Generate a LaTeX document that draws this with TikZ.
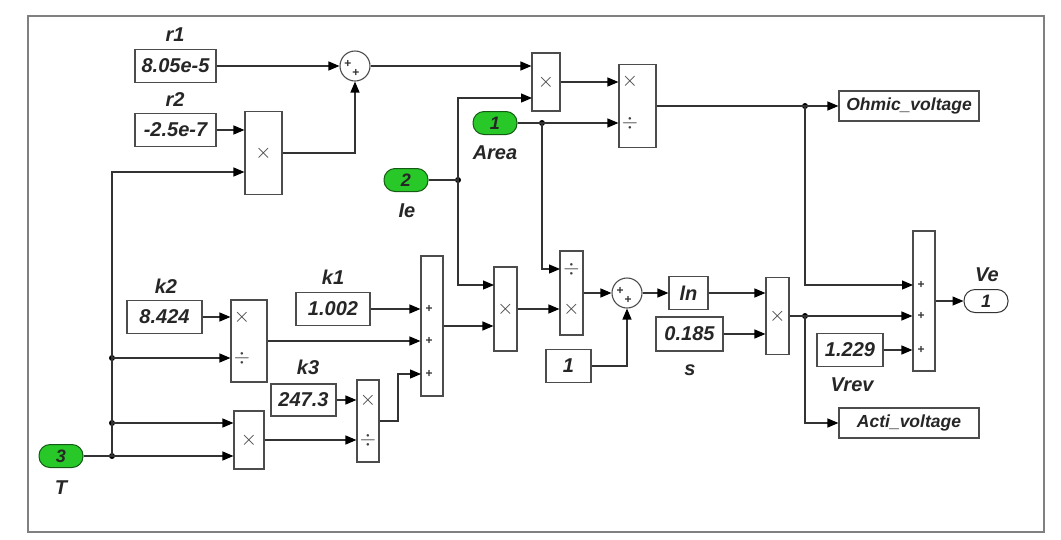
\documentclass[tikz,border=0pt]{standalone}
\usepackage{fontspec}
\setmainfont{Liberation Sans}
\usetikzlibrary{arrows.meta}
\definecolor{pgreen}{RGB}{40,200,40}
\definecolor{pdark}{RGB}{20,90,20}
\begin{document}
\begin{tikzpicture}[x=1pt,y=-1pt,
  wire/.style={draw=black!80, line width=1.2pt},
  arr/.style={wire, -{Triangle[length=11pt,width=9pt,color=black]}},
  bx/.style 2 args={draw=black!70, line width=1.1pt, fill=white, inner sep=0pt,
    minimum width=#1pt, minimum height=#2pt},
  txt/.style={font=\fontsize{20}{22}\selectfont\bfseries\itshape, text=black!85},
  stxt/.style={font=\fontsize{17.5}{20}\selectfont\bfseries\itshape, text=black!85},
  lbl/.style={font=\fontsize{20}{22}\selectfont\bfseries\itshape, text=black!85, inner sep=0pt},
  sym/.style={font=\fontsize{20}{22}\selectfont, text=black!75, inner sep=0pt},
  pl/.style={font=\fontsize{12}{13}\selectfont\bfseries, text=black!80, inner sep=0pt},
  sumc/.style={circle, draw=black!70, line width=1.1pt, minimum size=30pt, inner sep=0pt},
  port/.style={draw=pdark, line width=1pt, fill=pgreen, rounded corners=11pt,
    minimum width=44pt, minimum height=23pt, inner sep=0pt,
    font=\fontsize{18}{20}\selectfont\bfseries\itshape, text=black!85},
  oport/.style={port, fill=white, draw=black!80},
  dot/.style={circle, fill=black, inner sep=0pt, minimum size=6pt}
]
\useasboundingbox (0,0) rectangle (1061,539);
\draw[draw=black!50, line width=2.5pt] (28,16) rectangle (1044,532);

% ---- top part
\node[lbl] (lr1) at (175,35) {r1};
\node[bx={81}{33},txt] (cr1) at (175.5,66) {8.05e-5};
\node[lbl] (lr2) at (175,100) {r2};
\node[bx={81}{33},txt] (cr2) at (175.5,130) {-2.5e-7};
\node[bx={37}{83}] (m1) at (263.5,153) {};
\node[sym] (m1s) at (m1) {$\times$};
\node[sumc] (s1) at (355,66) {};
\node[pl] (s1p1) at (348,64) {+};
\node[pl] (s1p2) at (356,73) {+};
\node[bx={28}{58}] (m2) at (546,82) {};
\node[sym] (m2s) at (m2) {$\times$};
\node[bx={37}{83}] (d1) at (637.5,106) {};
\node[sym] (d1s1) at (630,81) {$\times$};
\node[sym] (d1s2) at (630,123) {$\div$};
\node[port] (area) at (495,123) {1};
\node[lbl] (larea) at (495,153) {Area};
\node[port] (ie) at (406,180) {2};
\node[lbl] (lie) at (407,211) {Ie};
\node[bx={140}{30},stxt] (ohm) at (909,106) {Ohmic\_voltage};

% ---- middle chain
\node[bx={23}{84}] (m3) at (505.5,309) {};
\node[sym] (m3s) at (m3) {$\times$};
\node[bx={23}{84}] (d2) at (571.5,293) {};
\node[sym] (d2s1) at (571.5,269) {$\div$};
\node[sym] (d2s2) at (571.5,309) {$\times$};
\node[sumc] (s2) at (627,293) {};
\node[pl] (s2p1) at (620,291) {+};
\node[pl] (s2p2) at (628,300) {+};
\node[bx={45}{33},txt] (c1) at (568.5,366) {1};
\node[bx={39}{33},txt] (ln) at (688.5,293) {ln};
\node[bx={67}{34},txt] (c185) at (689.5,334) {0.185};
\node[lbl] (ls) at (690,370) {s};
\node[bx={23}{77}] (m4) at (777.5,316) {};
\node[sym] (m4s) at (m4) {$\times$};
\node[bx={140}{30},stxt] (acti) at (909,423) {Acti\_voltage};
\node[bx={22}{140}] (s3) at (924,301) {};
\node[pl] (s3p1) at (921,285) {+};
\node[pl] (s3p2) at (921,316) {+};
\node[pl] (s3p3) at (921,350) {+};
\node[bx={66}{33},txt] (c1229) at (850,350) {1.229};
\node[lbl] (lvrev) at (852,385) {Vrev};
\node[oport] (ve) at (986,301) {1};
\node[lbl] (lve) at (987,275) {Ve};

% ---- left lower part
\node[lbl] (lk2) at (166,286) {k2};
\node[bx={75}{33},txt] (ck2) at (164.5,317) {8.424};
\node[bx={36}{82}] (d3) at (249,341) {};
\node[sym] (d3s1) at (242,317) {$\times$};
\node[sym] (d3s2) at (242,358) {$\div$};
\node[lbl] (lk1) at (333,277) {k1};
\node[bx={74}{33},txt] (ck1) at (333,309) {1.002};
\node[bx={22}{140}] (s4) at (432,326) {};
\node[pl] (s4p1) at (429,309) {+};
\node[pl] (s4p2) at (429,341) {+};
\node[pl] (s4p3) at (429,374) {+};
\node[lbl] (lk3) at (308,367) {k3};
\node[bx={65}{32},txt] (ck3) at (303.5,400) {247.3};
\node[bx={22}{82}] (d4) at (368,421) {};
\node[sym] (d4s1) at (368,400) {$\times$};
\node[sym] (d4s2) at (368,440) {$\div$};
\node[bx={30}{58}] (m5) at (249,440) {};
\node[sym] (m5s) at (m5) {$\times$};
\node[port] (T) at (61,456) {3};
\node[lbl] (lT) at (61,488) {T};

% ---- junctions and bend points
\coordinate (tc) at (112,172);
\node[dot] (jT1) at (112,358) {};
\node[dot] (jT2) at (112,423) {};
\node[dot] (jT3) at (112,456) {};
\node[dot] (ja) at (542,123) {};
\node[dot] (ji) at (458,180) {};
\node[dot] (jo) at (805,106) {};
\node[dot] (jm) at (805,316) {};
\coordinate (m2i2) at (532,98);
\coordinate (m3i1) at (494,285);
\coordinate (d2i1) at (560,269);
\coordinate (s3i1) at (913,285);
\coordinate (s4i3) at (421,374);
\coordinate (d4b) at (398,374);

% ---- connectors
\draw[arr] (cr1.east) -- (cr1.east -| s1.west);
\draw[arr] (cr2.east) -- (cr2.east -| m1.west);
\draw[arr] (m1.east) -| (s1.south);
\draw[arr] (s1.east) -- (s1.east -| m2.west);
\draw[arr] (m2.east) -- (m2.east -| d1.west);
\draw[arr] (area.east) -- (area.east -| d1.west);
\draw[arr] (ja.center) |- (d2i1);
\draw[wire] (ie.east) -- (ji.center);
\draw[arr] (ji.center) |- (m2i2);
\draw[arr] (ji.center) |- (m3i1);
\draw[wire] (d1.east) -- (jo.center);
\draw[arr] (jo.center) -- (ohm.west);
\draw[arr] (jo.center) |- (s3i1);
\draw[arr] (s4.east) -- (s4.east -| m3.west);
\draw[arr] (m3.east) -- (m3.east -| d2.west);
\draw[arr] (d2.east) -- (s2.west);
\draw[arr] (c1.east) -| (s2.south);
\draw[arr] (s2.east) -- (ln.west);
\draw[arr] (ln.east) -- (ln.east -| m4.west);
\draw[arr] (c185.east) -- (c185.east -| m4.west);
\draw[wire] (m4.east) -- (jm.center);
\draw[arr] (jm.center) -- (jm.center -| s3.west);
\draw[arr] (jm.center) |- (acti.west);
\draw[arr] (c1229.east) -- (c1229.east -| s3.west);
\draw[arr] (s3.east) -- (ve.west);
\draw[arr] (ck2.east) -- (ck2.east -| d3.west);
\draw[arr] (jT1.center) -- (jT1.center -| d3.west);
\draw[arr] (d3.east) -- (d3.east -| s4.west);
\draw[arr] (ck1.east) -- (ck1.east -| s4.west);
\draw[arr] (ck3.east) -- (ck3.east -| d4.west);
\draw[arr] (d4.east) -| (d4b) -- (s4i3);
\draw[arr] (m5.east) -- (m5.east -| d4.west);
\draw[arr] (jT2.center) -- (jT2.center -| m5.west);
\draw[arr] (T.east) -- (T.east -| m5.west);
\draw[arr] (jT3.center) -- (tc) -- (tc -| m1.west);
\end{tikzpicture}
\end{document}
